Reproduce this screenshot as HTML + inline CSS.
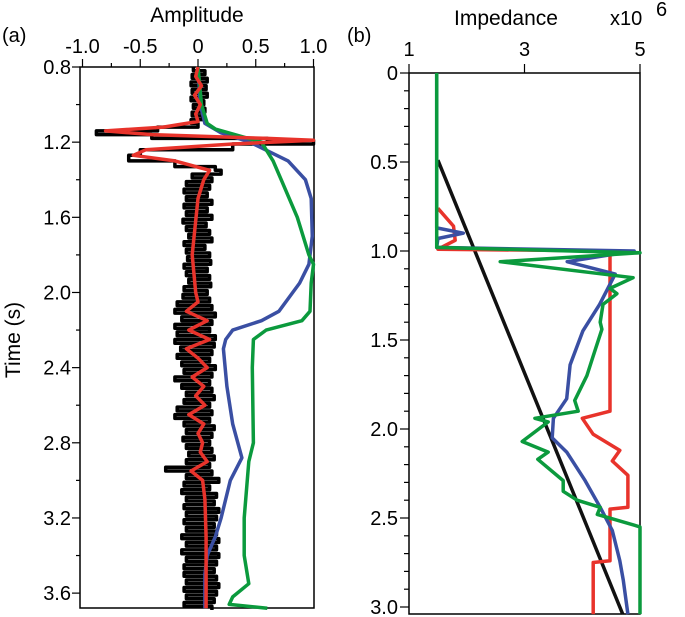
<!DOCTYPE html>
<html><head><meta charset="utf-8">
<style>
html,body{margin:0;padding:0;background:#fff;}
svg{display:block;font-family:"Liberation Sans",Arial,sans-serif;}
</style></head>
<body>
<svg id="c" width="685" height="617" viewBox="0 0 685 617" xmlns="http://www.w3.org/2000/svg">
<g id="pa"></g>
<g id="pb"></g>
</svg>
<script>
// ---------- Panel (a) data ----------
const aXTicks = [-1.0, -0.5, 0, 0.5, 1.0];
const aXTickLabels = ["-1.0", "-0.5", "0", "0.5", "1.0"];
const aYTicks = [0.8, 1.2, 1.6, 2.0, 2.4, 2.8, 3.2, 3.6];
const aYTickLabels = ["0.8", "1.2", "1.6", "2.0", "2.4", "2.8", "3.2", "3.6"];
const redT = [0.8,0.85,0.9,0.95,1.0,1.05,1.09,1.12,1.14,1.16,1.18,1.19,1.21,1.24,1.27,1.3,1.35,1.4,1.5,1.8,2.0,2.05,2.1,2.15,2.2,2.25,2.3,2.35,2.4,2.45,2.5,2.55,2.6,2.65,2.7,2.75,2.8,2.85,2.9,2.95,3.0,3.1,3.3,3.68];
const redA = [0.0,-0.02,0.03,-0.03,0.02,-0.02,0.0,-0.3,-0.8,-0.4,0.6,1.0,0.3,-0.45,-0.56,-0.2,0.1,0.05,0.0,-0.05,-0.02,0.0,-0.1,0.08,-0.08,0.1,-0.1,0.0,0.08,-0.05,0.05,-0.02,0.06,-0.08,0.05,0.0,0.04,0.02,0.08,-0.06,0.04,0.06,0.07,0.07];
const blueT = [0.8,1.0,1.1,1.15,1.2,1.3,1.4,1.5,1.7,1.85,1.95,2.0,2.1,2.15,2.2,2.25,2.3,2.5,2.7,2.88,3.0,3.2,3.3,3.4,3.5,3.68];
const blueA = [0.0,0.02,0.06,0.2,0.45,0.78,0.93,0.98,0.99,0.96,0.88,0.82,0.70,0.55,0.30,0.24,0.22,0.25,0.30,0.38,0.28,0.20,0.15,0.08,0.06,0.06];
const greenT = [0.8,1.0,1.1,1.13,1.2,1.3,1.4,1.6,1.8,1.85,1.95,2.1,2.15,2.2,2.25,2.4,2.8,2.9,3.2,3.4,3.55,3.62,3.66,3.68];
const greenA = [0.0,0.03,0.08,0.15,0.55,0.65,0.72,0.86,0.96,1.0,0.98,0.97,0.9,0.59,0.48,0.47,0.48,0.44,0.40,0.40,0.44,0.30,0.27,0.6];
const blackT = [0.8,0.82,0.84,0.86,0.88,0.9,0.92,0.94,0.96,0.98,1.0,1.02,1.04,1.06,1.08,1.1,1.12,1.14,1.16,1.18,1.19,1.21,1.24,1.27,1.3,1.33,1.35,1.37,1.39,1.41,1.43,1.45,1.47,1.49,1.51,1.53,1.55,1.57,1.59,1.61,1.63,1.65,1.67,1.69,1.71,1.73,1.75,1.77,1.79,1.81,1.83,1.85,1.87,1.89,1.91,1.93,1.95,1.97,1.99,2.01,2.03,2.05,2.07,2.09,2.11,2.13,2.15,2.17,2.19,2.21,2.23,2.25,2.27,2.29,2.31,2.33,2.35,2.37,2.39,2.41,2.43,2.45,2.47,2.49,2.51,2.53,2.55,2.57,2.59,2.61,2.63,2.65,2.67,2.69,2.71,2.73,2.75,2.77,2.79,2.81,2.83,2.85,2.87,2.89,2.91,2.93,2.95,2.97,2.99,3.01,3.03,3.05,3.07,3.09,3.11,3.13,3.15,3.17,3.19,3.21,3.23,3.25,3.27,3.29,3.31,3.33,3.35,3.37,3.39,3.41,3.43,3.45,3.47,3.49,3.51,3.53,3.55,3.57,3.59,3.61,3.63,3.65,3.67];
const blackA = [-0.04,0.06,-0.05,0.08,-0.06,0.07,-0.05,0.08,-0.06,0.05,-0.04,0.06,-0.05,0.04,-0.06,0.0,-0.35,-0.88,-0.4,0.6,1.0,0.3,-0.5,-0.6,-0.2,0.15,0.2,-0.05,0.12,-0.1,0.1,-0.12,0.08,-0.1,0.12,-0.12,0.08,-0.1,0.12,-0.13,0.07,-0.1,0.1,-0.08,0.12,-0.12,0.06,-0.1,0.1,-0.09,0.11,-0.12,0.08,-0.1,0.1,-0.08,0.11,-0.12,0.08,-0.13,0.1,-0.18,0.12,-0.2,0.15,-0.14,0.12,-0.2,0.1,-0.18,0.15,-0.2,0.14,-0.15,0.12,-0.18,0.1,-0.14,0.15,-0.12,0.12,-0.2,0.1,-0.14,0.12,-0.1,0.14,-0.12,0.1,-0.18,0.12,-0.2,0.1,-0.12,0.14,-0.1,0.12,-0.13,0.1,-0.1,0.12,-0.08,0.14,-0.1,0.1,-0.28,0.12,-0.1,0.18,-0.12,0.1,-0.14,0.16,-0.1,0.14,-0.12,0.18,-0.1,0.16,-0.12,0.14,-0.1,0.16,-0.14,0.18,-0.1,0.16,-0.14,0.18,-0.1,0.16,-0.12,0.14,-0.12,0.16,-0.1,0.18,-0.12,0.16,-0.1,0.14,-0.12,0.12,-0.05];

// ---------- Panel (b) data ----------
const bXTicks = [1, 3, 5];
const bXTickLabels = ["1", "3", "5"];
const bYTicks = [0, 0.5, 1.0, 1.5, 2.0, 2.5, 3.0];
const bYTickLabels = ["0", "0.5", "1.0", "1.5", "2.0", "2.5", "3.0"];
const bRedT = [0.76,0.86,0.94,0.99,1.0,1.05,1.9,1.94,2.03,2.12,2.18,2.26,2.44,2.45,2.74,2.75,3.04];
const bRedZ = [1.5,1.77,1.8,1.5,4.48,4.48,4.48,4.0,4.19,4.65,4.52,4.79,4.79,4.48,4.48,4.19,4.19];
const bBlueT = [0.0,0.87,0.9,0.93,0.98,1.0,1.06,1.13,1.3,1.45,1.64,1.83,1.94,2.05,2.13,2.29,2.44,2.57,2.74,2.85,3.04];
const bBlueZ = [1.48,1.48,1.94,1.5,1.48,4.9,3.74,4.57,4.3,4.01,3.79,3.73,3.5,3.48,3.73,4.05,4.31,4.52,4.65,4.71,4.79];
const bGreenT = [0.0,0.98,1.01,1.06,1.15,1.21,1.24,1.3,1.4,1.44,1.59,1.7,1.84,1.9,1.94,1.96,2.07,2.13,2.17,2.29,2.35,2.4,2.44,2.48,2.55,3.04];
const bGreenZ = [1.48,1.48,5.0,2.58,4.88,4.48,4.6,4.36,4.31,4.34,4.19,4.08,3.87,3.93,3.18,3.41,2.96,3.41,3.23,3.67,3.67,3.91,4.31,4.26,5.0,5.0];
const bTrendT = [0.49, 3.04];
const bTrendZ = [1.5, 4.7];

const NS = "http://www.w3.org/2000/svg";
function mk(parent, tag, attrs, text) {
  const e = document.createElementNS(NS, tag);
  for (const k in attrs) e.setAttribute(k, attrs[k]);
  if (text !== undefined) e.textContent = text;
  parent.appendChild(e);
  return e;
}

const ax = v => 198 + v * 115.5;
const ay = t => 67 + (t - 0.8) * 187.9;
const bx = v => 409 + (v - 1) * 57.75;
const by = t => 73 + t * 178;

const pa = document.getElementById('pa');
const pb = document.getElementById('pb');

let fr = mk(pa, 'rect', {x:80, y:67, width:234, height:541, fill:'none', stroke:'#000', 'stroke-width':1.5});


for (let k = 0; k <= 8; k++) {
  const v = -1 + k * 0.25;
  const major = k % 2 === 0;
  const t = mk(pa, 'line', {x1:ax(v), x2:ax(v), y1:67, y2:major?59:63, stroke:'#000', 'stroke-width':1.2});
  
  
}
aXTicks.forEach((v, i) => {
  const t = mk(pa, 'text', {x:ax(v), y:53, 'font-size':20, 'text-anchor':'middle'}, aXTickLabels[i]);
  
  
});
for (let k = 0; k <= 14; k++) {
  const v = 0.8 + k * 0.2;
  const major = k % 2 === 0;
  const t = mk(pa, 'line', {x1:80, x2:major?72:76, y1:ay(v), y2:ay(v), stroke:'#000', 'stroke-width':1.2});
  
  
}
aYTicks.forEach((v, i) => {
  const t = mk(pa, 'text', {x:71, y:ay(v)+7, 'font-size':20, 'text-anchor':'end'}, aYTickLabels[i]);
  
  
});
let tx = mk(pa, 'text', {x:197, y:22, 'font-size':21, 'text-anchor':'middle'}, 'Amplitude');


tx = mk(pa, 'text', {x:2, y:42, 'font-size':20}, '(a)');


tx = mk(pa, 'text', {x:0, y:0, 'font-size':21, 'text-anchor':'middle', transform:'translate(20,340) rotate(-90)'}, 'Time (s)');



function linePath(ts, vs, sx, sy) {
  return ts.map((t, i) => (i ? 'L' : 'M') + sx(vs[i]).toFixed(1) + ',' + sy(t).toFixed(1)).join('');
}
function stepPath(ts, vs, sx, sy) {
  let d = '';
  ts.forEach((t, i) => {
    const y0 = sy(t), y1 = sy(i < ts.length - 1 ? ts[i+1] : t + 0.02);
    d += (i ? 'L' : 'M') + sx(vs[i]).toFixed(1) + ',' + y0.toFixed(1) + 'L' + sx(vs[i]).toFixed(1) + ',' + y1.toFixed(1);
  });
  return d;
}

let p = mk(pa, 'path', {d:stepPath(blackT, blackA, ax, ay), fill:'none', stroke:'#000', 'stroke-width':3.5, 'stroke-linejoin':'round'});


p = mk(pa, 'path', {d:linePath(blueT, blueA, ax, ay), fill:'none', stroke:'#3a4fa3', 'stroke-width':3.5, 'stroke-linejoin':'round'});


p = mk(pa, 'path', {d:linePath(greenT, greenA, ax, ay), fill:'none', stroke:'#0b9a3d', 'stroke-width':3.5, 'stroke-linejoin':'round'});


p = mk(pa, 'path', {d:linePath(redT, redA, ax, ay), fill:'none', stroke:'#e8332b', 'stroke-width':3.5, 'stroke-linejoin':'round'});



fr = mk(pb, 'path', {d:'M409,73H640V614H409Z', fill:'none', stroke:'#000', 'stroke-width':1.5});


bXTicks.forEach((v, i) => {
  let t = mk(pb, 'line', {x1:bx(v), x2:bx(v), y1:73, y2:64, stroke:'#000', 'stroke-width':1.2});
  
  
  t = mk(pb, 'text', {x:bx(v), y:56, 'font-size':20, 'text-anchor':'middle'}, bXTickLabels[i]);
  
  
});
for (let k = 0; k <= 30; k++) {
  const v = k / 10;
  const major = k % 5 === 0;
  const t = mk(pb, 'line', {x1:409, x2:major?400:404, y1:by(v), y2:by(v), stroke:'#000', 'stroke-width':1.2});
  
  
}
bYTicks.forEach((v, i) => {
  const t = mk(pb, 'text', {x:398, y:by(v)+7, 'font-size':20, 'text-anchor':'end'}, bYTickLabels[i]);
  
  
});
tx = mk(pb, 'text', {x:506, y:25, 'font-size':21, 'text-anchor':'middle'}, 'Impedance');


tx = mk(pb, 'text', {x:610, y:25, 'font-size':20}, 'x10');


tx = mk(pb, 'text', {x:656, y:16, 'font-size':20}, '6');


tx = mk(pb, 'text', {x:347, y:42, 'font-size':20}, '(b)');



p = mk(pb, 'path', {d:linePath(bTrendT, bTrendZ, bx, by), fill:'none', stroke:'#111', 'stroke-width':3.5});


p = mk(pb, 'path', {d:linePath(bRedT, bRedZ, bx, by), fill:'none', stroke:'#e8332b', 'stroke-width':3.5, 'stroke-linejoin':'round'});


p = mk(pb, 'path', {d:linePath(bBlueT, bBlueZ, bx, by), fill:'none', stroke:'#3a4fa3', 'stroke-width':3.5, 'stroke-linejoin':'round'});


p = mk(pb, 'path', {d:linePath(bGreenT, bGreenZ, bx, by), fill:'none', stroke:'#0b9a3d', 'stroke-width':3.5, 'stroke-linejoin':'round'});


</script>
</body></html>
